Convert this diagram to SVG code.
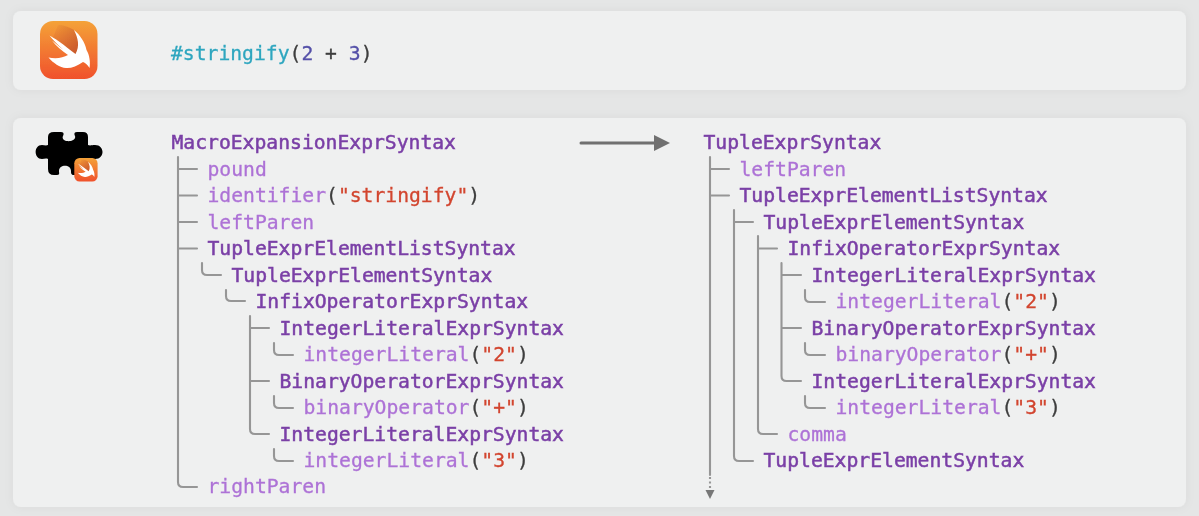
<svg xmlns="http://www.w3.org/2000/svg" width="1199" height="516" viewBox="0 0 1199 516">
<style>
text{font-family:"DejaVu Sans Mono","Liberation Mono",monospace;font-size:19.7px;white-space:pre}
.s{fill:#7a3fa6;stroke:#7a3fa6;stroke-width:.5px}
.t{fill:#ad72d6;stroke:#ad72d6;stroke-width:.3px}
.p{fill:#3d3d3d;stroke:#3d3d3d;stroke-width:.3px}
.r{fill:#d2452f;stroke:#d2452f;stroke-width:.3px}
.f{fill:#2ea6bf;stroke:#2ea6bf;stroke-width:.3px}
.n{fill:#5450a8;stroke:#5450a8;stroke-width:.3px}
.c{fill:none;stroke:#969696;stroke-width:2.100px;stroke-linecap:round;stroke-linejoin:round}
</style>
<defs>
<linearGradient id="sw" x1="0" y1="0" x2="0" y2="1"><stop offset="0" stop-color="#f4a238"/><stop offset="1" stop-color="#f0512c"/></linearGradient>
<linearGradient id="dk" x1="0" y1="0" x2="1" y2="1"><stop offset="0" stop-color="#c9602c" stop-opacity="0"/><stop offset="1" stop-color="#c4572c"/></linearGradient>
<filter id="sh" x="-5%" y="-20%" width="110%" height="140%"><feDropShadow dx="0" dy="0" stdDeviation="5" flood-color="#000" flood-opacity=".05"/></filter>
<filter id="soft" x="-2%" y="-2%" width="104%" height="104%"><feGaussianBlur stdDeviation=".4"/></filter>
<g id="icon">
<rect x="40" y="21" width="57.500" height="58" rx="13" fill="url(#sw)"/>
<path d="M58 25C64 25 69 27 74 30C79 38 81 46 75 56L52 40Z" fill="url(#dk)"/>
<path d="M48.500 57.500C53 63 60 67.500 66 68C71 68.500 77 66 83 62C85 62.500 87.500 64.500 89.500 68C90.500 62 89.500 55 86.500 50C85 42 80 35 74 30C78 38 80 46 75.500 54C69 49 58 40 49.500 35.500C53 40 58 45 63 49.500C59 46.500 55 43 52 40.500C56 46 62 51 68 55C63 58 56 59 48.500 57.500Z" fill="#fff"/>
</g>
</defs>
<rect width="1199" height="516" fill="#e5e6e6"/>
<rect id="panel-top" x="13" y="11" width="1173" height="79" rx="8" fill="#eff0f0" filter="url(#sh)"/>
<rect id="panel-main" x="13" y="118" width="1173" height="389" rx="8" fill="#eff0f0" filter="url(#sh)"/>
<g filter="url(#soft)">
<g id="swift-logo"><use href="#icon"/></g>
<g id="macro-icon">
<path d="M48 145V137Q48 132 54 132H61C64 132 64 134 63 136C60 143 77 143 75 136C74 134 74 132 77 132H83Q88 132 88 137V145C90 146 92 145 95 145C105 145 105 159 95 159C92 159 90 158 88 159V169Q88 175 82 175H74C71 175 71 173 71 171C71 164 59 164 59 171C59 173 60 175 57 175H54Q48 175 48 169V159C46 158 44 159 42 159C33.500 159 33.500 145 42 145C44 145 46 146 48 145Z" fill="#000"/>
<g transform="translate(74.300 158) scale(.405) translate(-40 -21)"><use href="#icon"/></g>
</g>
<g id="connectors" class="c">
<path d="M178 157V482Q178 487 183 487H197M178 169H197M178 195.500H197M178 222H197M178 248.500H197"/>
<path d="M202 263V270Q202 275 207 275H221"/>
<path d="M226 290V296Q226 301 231 301H245"/>
<path d="M250 316V429Q250 434 255 434H269M250 328H269M250 381H269"/>
<path d="M274 343V350Q274 355 279 355H293M274 396V403Q274 408 279 408H293M274 449V456Q274 461 279 461H293"/>
<path d="M710 157V475M710 169H729M710 195.500H729"/>
<path d="M710 477V489" stroke-dasharray="2 2.500" stroke-linecap="butt"/>
<path d="M705.500 490H714.500L710 499Z" fill="#777" stroke="none"/>
<path d="M734 210V456Q734 461 739 461H753M734 222H753"/>
<path d="M758 236V429Q758 434 763 434H777M758 248.500H777"/>
<path d="M781.500 263V376Q781.500 381 786.500 381H801M781.500 275H801M781.500 328H801"/>
<path d="M805 290V297Q805 302 810 302H825M805 343V350Q805 355 810 355H825M805 396V403Q805 408 810 408H825"/>
<path d="M581 143H655" stroke="#6f6f6f" stroke-width="3"/>
<path d="M654 135L670 143L654 151Z" fill="#6f6f6f" stroke="none"/>
</g>
<g id="code-top"><text x="171" y="60"><tspan class="f">#stringify</tspan><tspan class="p">(</tspan><tspan class="n">2</tspan><tspan class="p"> + </tspan><tspan class="n">3</tspan><tspan class="p">)</tspan></text></g>
<g id="tree-left">
<text id="l0" x="171.500" y="149" class="s">MacroExpansionExprSyntax</text>
<text id="l1" x="207.500" y="176" class="t">pound</text>
<text id="l2" x="207.500" y="202" class="t">identifier<tspan class="p">(</tspan><tspan class="r">"stringify"</tspan><tspan class="p">)</tspan></text>
<text id="l3" x="207.500" y="229" class="t">leftParen</text>
<text id="l4" x="207.500" y="255" class="s">TupleExprElementListSyntax</text>
<text id="l5" x="231.500" y="282" class="s">TupleExprElementSyntax</text>
<text id="l6" x="255.500" y="308" class="s">InfixOperatorExprSyntax</text>
<text id="l7" x="279.500" y="335" class="s">IntegerLiteralExprSyntax</text>
<text id="l8" x="303.500" y="361" class="t">integerLiteral<tspan class="p">(</tspan><tspan class="r">"2"</tspan><tspan class="p">)</tspan></text>
<text id="l9" x="279.500" y="388" class="s">BinaryOperatorExprSyntax</text>
<text id="l10" x="303.500" y="414" class="t">binaryOperator<tspan class="p">(</tspan><tspan class="r">"+"</tspan><tspan class="p">)</tspan></text>
<text id="l11" x="279.500" y="441" class="s">IntegerLiteralExprSyntax</text>
<text id="l12" x="303.500" y="467" class="t">integerLiteral<tspan class="p">(</tspan><tspan class="r">"3"</tspan><tspan class="p">)</tspan></text>
<text id="l13" x="207.500" y="493" class="t">rightParen</text>
</g>
<g id="tree-right">
<text id="r0" x="703.500" y="149" class="s">TupleExprSyntax</text>
<text id="r1" x="739.500" y="176" class="t">leftParen</text>
<text id="r2" x="739.500" y="202" class="s">TupleExprElementListSyntax</text>
<text id="r3" x="763.500" y="229" class="s">TupleExprElementSyntax</text>
<text id="r4" x="787.500" y="255" class="s">InfixOperatorExprSyntax</text>
<text id="r5" x="811.500" y="282" class="s">IntegerLiteralExprSyntax</text>
<text id="r6" x="835.500" y="308" class="t">integerLiteral<tspan class="p">(</tspan><tspan class="r">"2"</tspan><tspan class="p">)</tspan></text>
<text id="r7" x="811.500" y="335" class="s">BinaryOperatorExprSyntax</text>
<text id="r8" x="835.500" y="361" class="t">binaryOperator<tspan class="p">(</tspan><tspan class="r">"+"</tspan><tspan class="p">)</tspan></text>
<text id="r9" x="811.500" y="388" class="s">IntegerLiteralExprSyntax</text>
<text id="r10" x="835.500" y="414" class="t">integerLiteral<tspan class="p">(</tspan><tspan class="r">"3"</tspan><tspan class="p">)</tspan></text>
<text id="r11" x="787.500" y="441" class="t">comma</text>
<text id="r12" x="763.500" y="467" class="s">TupleExprElementSyntax</text>
</g>
</g>
</svg>
